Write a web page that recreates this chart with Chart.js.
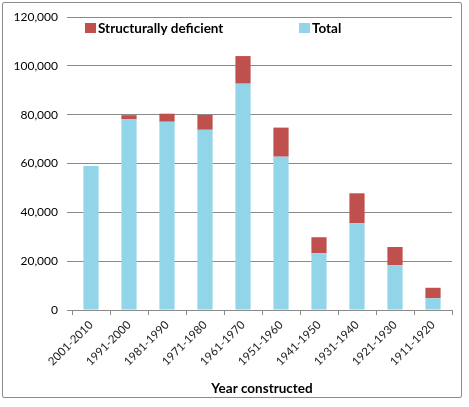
<!DOCTYPE html>
<html>
<head>
<meta charset="utf-8">
<script src="https://cdn.jsdelivr.net/npm/chart.js@4"></script>
<style>
  html, body { margin: 0; padding: 0; background: #fff; }
  #wrap { position: relative; width: 469px; height: 407px; }
  #frame { position: absolute; left: 2px; top: 2px; width: 460px; height: 396px; border: 1px solid #8c8c8c; border-radius: 2px; box-sizing: border-box; }
  canvas { position: absolute; left: 0; top: 0; }
</style>
</head>
<body>
<div id="wrap">
  <div id="frame"></div>
  <canvas id="c" width="469" height="407"></canvas>
</div>
<script>
const categories = ['2001-2010','1991-2000','1981-1990','1971-1980','1961-1970','1951-1960','1941-1950','1931-1940','1921-1930','1911-1920'];
const totalValues = [59000, 78200, 77100, 73800, 92700, 62800, 23200, 35500, 18300, 4800];
const deficientValues = [0, 1600, 3300, 6100, 11300, 11900, 6600, 12300, 7500, 4300];
const yTicks = [0, 20000, 40000, 60000, 80000, 100000, 120000];

const legendPlugin = {
  id: 'insideLegend',
  afterDraw(chart) {
    const ctx = chart.ctx;
    const ds = chart.data.datasets;
    const items = [
      { ds: ds[1], x: 85 },
      { ds: ds[0], x: 299 }
    ];
    ctx.save();
    ctx.font = 'bold 13.5px Lato, "Open Sans", sans-serif';
    ctx.textBaseline = 'middle';
    ctx.textAlign = 'left';
    items.forEach(it => {
      ctx.fillStyle = it.ds.backgroundColor;
      ctx.fillRect(it.x, 23, 11, 10);
      ctx.fillStyle = '#000';
      ctx.fillText(it.ds.label, it.x + 13, 28.5);
    });
    ctx.restore();
  }
};

new Chart(document.getElementById('c'), {
  type: 'bar',
  data: {
    labels: categories,
    datasets: [
      { label: 'Total', data: totalValues, backgroundColor: '#93d5e8', borderWidth: 0 },
      { label: 'Structurally deficient', data: deficientValues, backgroundColor: '#c0504d', borderWidth: 0 }
    ]
  },
  options: {
    responsive: false,
    animation: false,
    devicePixelRatio: 1,
    layout: { padding: { left: 0, right: 17, top: 17, bottom: 0 } },
    plugins: { legend: { display: false }, tooltip: { enabled: false } },
    datasets: { bar: { categoryPercentage: 1, barPercentage: 0.4 } },
    scales: {
      x: {
        stacked: true,
        afterFit(scale) { scale.height = 97; },
        grid: { offset: true, drawOnChartArea: false, drawTicks: true, tickLength: 5, color: '#8a8a8a' },
        border: { display: true, color: '#8a8a8a' },
        ticks: {
          minRotation: 45, maxRotation: 45, autoSkip: false, padding: 3,
          color: '#1a1a1a', font: { family: 'Lato, "Open Sans", sans-serif', size: 11.5 }
        },
        title: {
          display: true, text: 'Year constructed', color: '#000',
          font: { family: 'Lato, "Open Sans", sans-serif', size: 13.5, weight: 'bold' },
          padding: { top: 0, bottom: 10 }
        }
      },
      y: {
        stacked: true,
        min: 0, max: 120000,
        afterFit(scale) { scale.width = 72; },
        afterBuildTicks(scale) { scale.ticks = yTicks.map(v => ({ value: v })); },
        grid: { color: '#8a8a8a', drawTicks: true, tickLength: 5 },
        border: { display: false },
        ticks: {
          padding: 9, color: '#000',
          font: { family: 'Lato, "Open Sans", sans-serif', size: 12 },
          callback: v => v.toLocaleString('en-US')
        }
      }
    }
  },
  plugins: [legendPlugin]
});
</script>
</body>
</html>
